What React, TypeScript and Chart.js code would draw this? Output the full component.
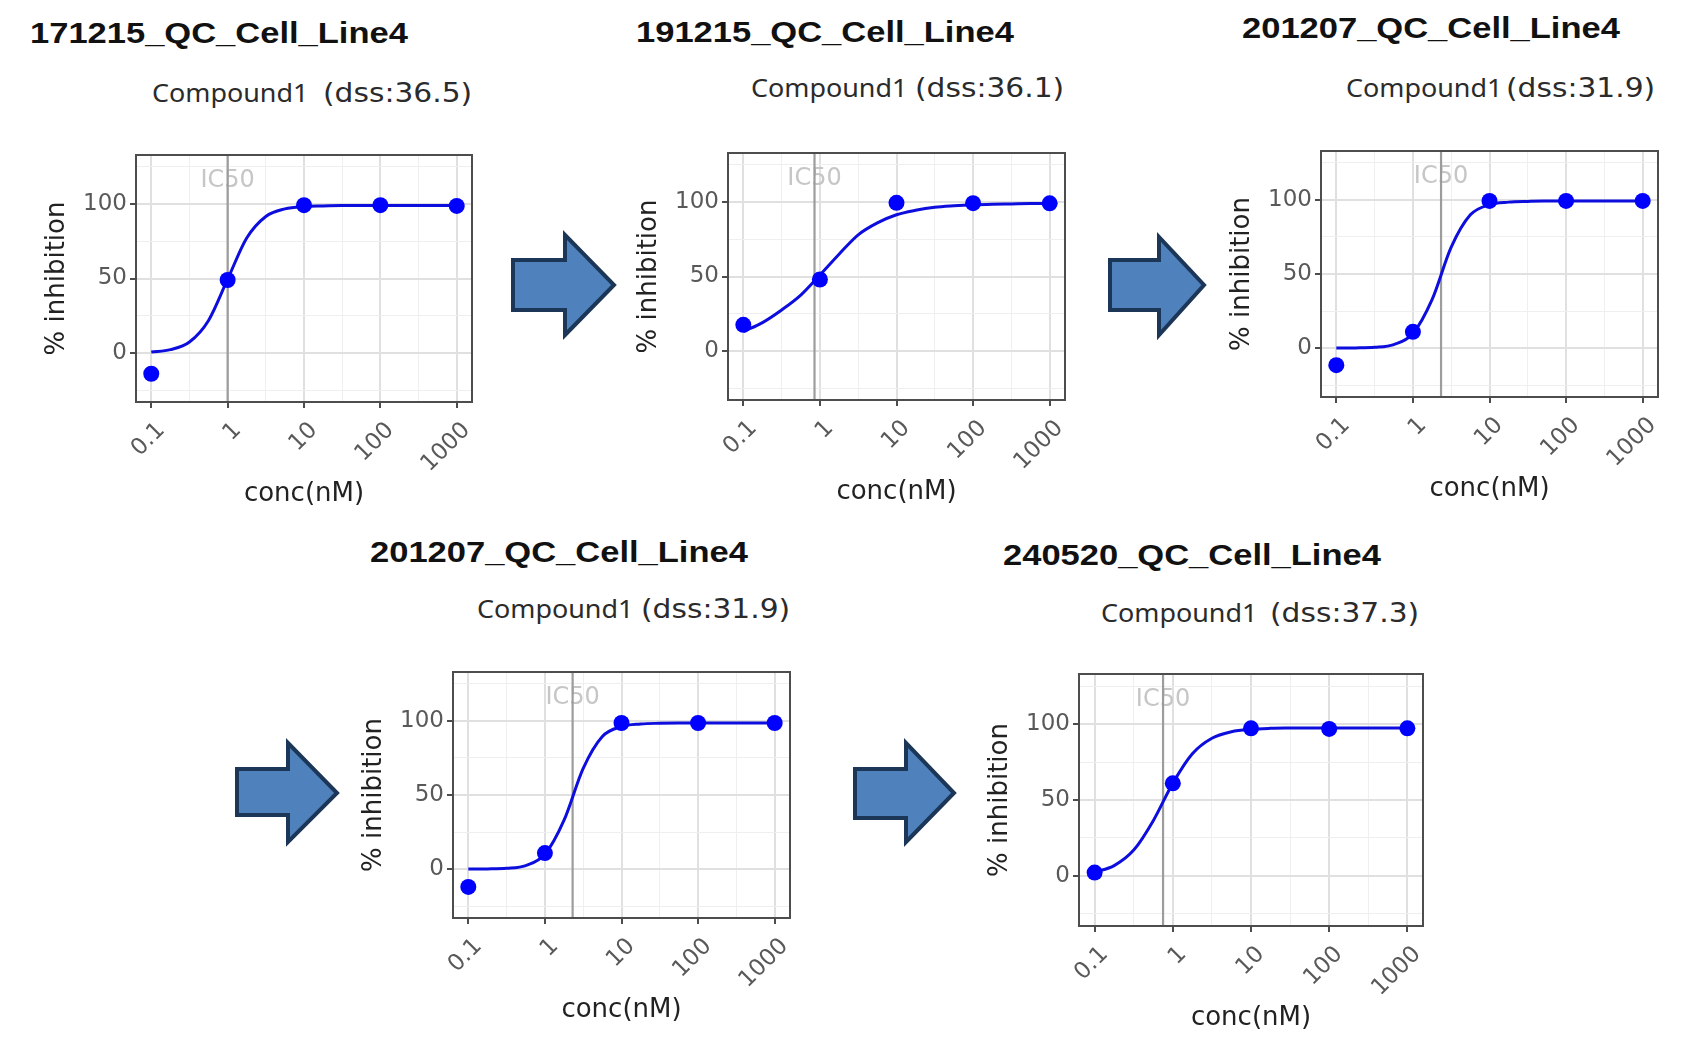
import React, { useEffect, useRef } from 'react';
import { Chart, registerables } from 'chart.js';

Chart.register(...registerables);

// ---------------- data ----------------
const CONC = [0.1, 1, 10, 100, 1000];
const X_TICK_LABELS = ['0.1', '1', '10', '100', '1000'];
const X_MINOR = [0.3162, 3.162, 31.62, 316.2];
const Y_MAJOR = [0, 50, 100];
const Y_MINOR = [-25, 25, 75, 125];
const CURVE_CONC = [0.1, 0.1778, 0.3162, 0.5623, 1, 1.778, 3.162, 5.623, 10, 17.78, 31.62, 56.23, 100, 177.8, 316.2, 562.3, 1000];

const TITLES = ['171215_QC_Cell_Line4', '191215_QC_Cell_Line4', '201207_QC_Cell_Line4', '201207_QC_Cell_Line4', '240520_QC_Cell_Line4'];
const COMPOUND = 'Compound1';
const DSS = ['36.5', '36.1', '31.9', '31.9', '37.3'];
const IC50 = [1.0, 0.85, 2.33, 2.3, 0.75];

const POINTS_171215 = [-14, 49, 99.3, 99.3, 98.8];
const POINTS_191215 = [17.5, 48, 99.5, 99.3, 99.2];
const POINTS_201207_A = [-11.5, 11, 99.3, 99.3, 99.3];
const POINTS_201207_B = [-12, 10.8, 98.6, 98.6, 98.6];
const POINTS_240520 = [2.2, 61, 97.2, 96.8, 97.2];

const CURVE_171215 = [0.6, 2.2, 7.3, 21.8, 49.5, 77.2, 91.7, 96.8, 98.4, 98.8, 99, 99, 99, 99, 99, 99, 99];
const CURVE_191215 = [13, 19, 27.5, 37.5, 51, 65, 78, 86, 91.5, 94.5, 96.5, 97.5, 98.2, 98.6, 98.8, 99, 99];
const CURVE_201207_A = [0.03, 0.12, 0.54, 2.4, 9.9, 32.7, 68.1, 89.9, 96.8, 98.5, 99, 99.2, 99.3, 99.3, 99.3, 99.3, 99.3];
const CURVE_201207_B = [0.03, 0.12, 0.55, 2.4, 10, 33, 68, 89.5, 96.2, 97.9, 98.4, 98.6, 98.6, 98.6, 98.6, 98.6, 98.6];
const CURVE_240520 = [2.5, 6.8, 17, 36.4, 61.1, 80.5, 90.7, 95, 96.6, 97.2, 97.4, 97.5, 97.5, 97.5, 97.5, 97.5, 97.5];

const POINTS = [POINTS_171215, POINTS_191215, POINTS_201207_A, POINTS_201207_B, POINTS_240520];
const CURVES = [CURVE_171215, CURVE_191215, CURVE_201207_A, CURVE_201207_B, CURVE_240520];

// ---------------- layout / style ----------------
const BOXES = [
  { l: 136, t: 155, r: 472, b: 402 },
  { l: 728, t: 153, r: 1065, b: 400 },
  { l: 1321, t: 151, r: 1658, b: 397 },
  { l: 453, t: 672, r: 790, b: 918 },
  { l: 1079, t: 674, r: 1423, b: 926 },
];
const TITLE_POS = [
  { x: 30, base: 43 }, { x: 636, base: 42 }, { x: 1242, base: 38 }, { x: 370, base: 562 }, { x: 1003, base: 565 },
];
const SUB_POS = [
  { x: 152, x2: 323, base: 102 }, { x: 751, x2: 915, base: 97 }, { x: 1346, x2: 1506, base: 97 },
  { x: 477, x2: 641, base: 618 }, { x: 1101, x2: 1270, base: 622 },
];
const ARROWS = [
  { x0: 511, xh: 563, xt: 618, ys0: 258, ys1: 312, yh0: 230, yh1: 340, yt: 285 },
  { x0: 1108, xh: 1157, xt: 1208, ys0: 258, ys1: 312, yh0: 232, yh1: 340, yt: 285 },
  { x0: 235, xh: 286, xt: 341, ys0: 767, ys1: 817, yh0: 738, yh1: 847, yt: 793 },
  { x0: 853, xh: 904, xt: 958, ys0: 767, ys1: 820, yh0: 738, yh1: 847, yt: 793 },
];

const PAD_L = 100;
const PAD_R = 20;
const PAD_T = 20;
const PAD_B = 108;
const X_MIN = Math.pow(10, -1.2);
const X_MAX = Math.pow(10, 3.2);
const Y_MIN = -33;
const Y_MAX = 133;
const MAJOR_GRID = '#e0e0e0';
const MINOR_GRID = '#efefef';
const TICK_COLOR = '#595959';
const AXIS_TITLE_COLOR = '#222222';

const X_ALL = [...CONC, ...X_MINOR].sort((a, b) => a - b);
const Y_ALL = [...Y_MAJOR, ...Y_MINOR].sort((a, b) => a - b);

function Panel({ idx }: { idx: number }) {
  const ref = useRef<HTMLCanvasElement>(null);
  const box = BOXES[idx];
  const W = box.r - box.l + PAD_L + PAD_R;
  const H = box.b - box.t + PAD_T + PAD_B;

  useEffect(() => {
    if (!ref.current) return;
    const ic50 = IC50[idx];
    const overlay = {
      id: 'ic50overlay',
      beforeDatasetsDraw(chart: any) {
        const { ctx, chartArea } = chart;
        const px = chart.scales.x.getPixelForValue(ic50);
        ctx.save();
        ctx.font = '24px "DejaVu Sans"';
        ctx.fillStyle = '#c6c6c6';
        ctx.textAlign = 'center';
        ctx.textBaseline = 'middle';
        ctx.fillText('IC50', px, chartArea.top + 26);
        ctx.strokeStyle = '#9c9c9c';
        ctx.lineWidth = 2.2;
        ctx.beginPath();
        ctx.moveTo(px, chartArea.top);
        ctx.lineTo(px, chartArea.bottom);
        ctx.stroke();
        ctx.restore();
      },
      afterDatasetsDraw(chart: any) {
        const { ctx, chartArea } = chart;
        ctx.save();
        ctx.strokeStyle = '#4d4d4d';
        ctx.lineWidth = 2;
        ctx.strokeRect(chartArea.left, chartArea.top, chartArea.right - chartArea.left, chartArea.bottom - chartArea.top);
        ctx.restore();
      },
    };

    const isMajorX = (v: number) => CONC.includes(v);
    const isMajorY = (v: number) => Y_MAJOR.includes(v);

    const chart = new Chart(ref.current, {
      type: 'scatter',
      data: {
        datasets: [
          {
            label: 'measured',
            data: CONC.map((x, i) => ({ x, y: POINTS[idx][i] })),
            showLine: false,
            pointRadius: 8,
            pointBackgroundColor: '#0000ff',
            pointBorderWidth: 0,
            pointBorderColor: '#0000ff',
          },
          {
            label: 'fit',
            data: CURVE_CONC.map((x, i) => ({ x, y: CURVES[idx][i] })),
            showLine: true,
            pointRadius: 0,
            borderColor: '#0d0dde',
            borderWidth: 3,
            cubicInterpolationMode: 'monotone',
            fill: false,
          },
        ],
      },
      options: {
        animation: false,
        responsive: false,
        maintainAspectRatio: false,
        events: [],
        layout: { padding: { left: 0, top: PAD_T, right: PAD_R, bottom: 0 } },
        plugins: { legend: { display: false }, tooltip: { enabled: false } },
        scales: {
          x: {
            type: 'logarithmic',
            position: 'bottom',
            min: X_MIN,
            max: X_MAX,
            bounds: 'data',
            afterBuildTicks: (s: any) => {
              s.ticks = X_ALL.map((v) => ({ value: v }));
            },
            afterFit: (s: any) => {
              s.height = PAD_B;
            },
            ticks: {
              autoSkip: false,
              minRotation: 45,
              maxRotation: 45,
              padding: 9,
              labelOffset: 10,
              color: TICK_COLOR,
              font: { family: 'DejaVu Sans', size: 23 },
              callback: (v: any) => {
                const k = CONC.indexOf(Number(v));
                return k >= 0 ? X_TICK_LABELS[k] : '';
              },
            },
            grid: {
              color: (c: any) => (isMajorX(c.tick?.value) ? MAJOR_GRID : MINOR_GRID),
              lineWidth: (c: any) => (isMajorX(c.tick?.value) ? 2 : 1),
              tickLength: 6,
              tickWidth: 2,
              tickColor: (c: any) => (isMajorX(c.tick?.value) ? '#4d4d4d' : 'rgba(0,0,0,0)'),
            },
            border: { display: false },
            title: {
              display: true,
              text: 'conc(nM)',
              color: AXIS_TITLE_COLOR,
              font: { family: 'DejaVu Sans', size: 26 },
              padding: { top: 0, bottom: 0 },
            },
          },
          y: {
            type: 'linear',
            min: Y_MIN,
            max: Y_MAX,
            bounds: 'data',
            afterBuildTicks: (s: any) => {
              s.ticks = Y_ALL.map((v) => ({ value: v }));
            },
            afterFit: (s: any) => {
              s.width = PAD_L;
            },
            ticks: {
              autoSkip: false,
              padding: 3,
              color: TICK_COLOR,
              font: { family: 'DejaVu Sans', size: 23 },
              callback: (v: any) => (isMajorY(Number(v)) ? String(v) : ''),
            },
            grid: {
              color: (c: any) => (isMajorY(c.tick?.value) ? MAJOR_GRID : MINOR_GRID),
              lineWidth: (c: any) => (isMajorY(c.tick?.value) ? 2 : 1),
              tickLength: 6,
              tickWidth: 2,
              tickColor: (c: any) => (isMajorY(c.tick?.value) ? '#4d4d4d' : 'rgba(0,0,0,0)'),
            },
            border: { display: false },
            title: {
              display: true,
              text: '% inhibition',
              color: AXIS_TITLE_COLOR,
              font: { family: 'DejaVu Sans', size: 26 },
              padding: { top: 6, bottom: 0 },
            },
          },
        },
      } as any,
      plugins: [overlay],
    });
    return () => chart.destroy();
  }, [idx]);

  return (
    <canvas
      ref={ref}
      width={W}
      height={H}
      style={{ position: 'absolute', left: box.l - PAD_L, top: box.t - PAD_T, width: W, height: H }}
    />
  );
}

function Txt(props: {
  x: number; base: number; size: number; family: string; k: number; weight?: string; color: string; sx: number; text: string;
}) {
  const { x, base, size, family, k, weight, color, sx, text } = props;
  return (
    <div
      style={{
        position: 'absolute',
        left: x,
        top: base - k * size,
        fontSize: size,
        fontFamily: family,
        fontWeight: (weight || 'normal') as any,
        color,
        lineHeight: 0,
        whiteSpace: 'nowrap',
        transform: `scaleX(${sx})`,
        transformOrigin: 'left center',
      }}
    >
      {text}
    </div>
  );
}

export default function App() {
  return (
    <div style={{ position: 'absolute', left: 0, top: 0, width: 1706, height: 1037, background: '#ffffff', overflow: 'hidden' }}>
      <svg width={1706} height={1037} style={{ position: 'absolute', left: 0, top: 0 }}>
        {ARROWS.map((a, i) => {
          const s = 2;
          const pts = [
            [a.x0 + s, a.ys0 + s],
            [a.xh + s, a.ys0 + s],
            [a.xh + s, a.yh0 + 5],
            [a.xt - 4, a.yt],
            [a.xh + s, a.yh1 - 5],
            [a.xh + s, a.ys1 - s],
            [a.x0 + s, a.ys1 - s],
          ].map((p) => p.join(',')).join(' ');
          return <polygon key={i} points={pts} fill="#4f81bd" stroke="#1c3657" strokeWidth={4} strokeLinejoin="miter" />;
        })}
      </svg>
      {TITLES.map((t, i) => (
        <Txt key={'t' + i} x={TITLE_POS[i].x} base={TITLE_POS[i].base} size={29} family='"Liberation Sans", Arial, sans-serif'
          k={0.3465} weight="bold" color="#111111" sx={1.19} text={t} />
      ))}
      {DSS.map((d, i) => (
        <React.Fragment key={'s' + i}>
          <Txt x={SUB_POS[i].x} base={SUB_POS[i].base} size={25} family='"Noto Sans", sans-serif' k={0.388}
            color="#2b2b2b" sx={1.076} text={COMPOUND} />
          <Txt x={SUB_POS[i].x2} base={SUB_POS[i].base} size={27} family='"DejaVu Sans", sans-serif' k={0.346}
            color="#2b2b2b" sx={1.1} text={`(dss:${d})`} />
        </React.Fragment>
      ))}
      {BOXES.map((_, i) => (
        <Panel key={'p' + i} idx={i} />
      ))}
    </div>
  );
}
